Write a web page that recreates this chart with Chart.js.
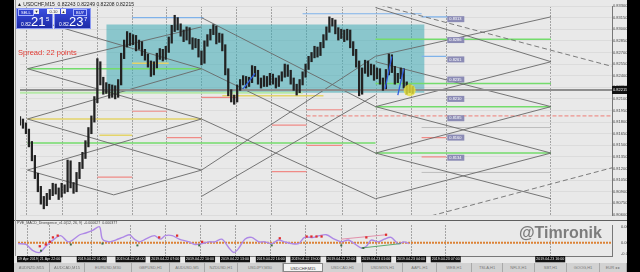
<!DOCTYPE html>
<html>
<head>
<meta charset="utf-8">
<title>USDCHF,M15</title>
<script src="https://cdn.jsdelivr.net/npm/chart.js@4.4.1/dist/chart.umd.min.js"></script>
<style>
  body { margin: 0; width: 640px; height: 272px; background: #000; position: relative; overflow: hidden; font-family: "Liberation Sans", Arial, sans-serif; }
  .pane { position: absolute; left: 14px; width: 613px; background: #e9e9e9; }
  #mainPane { top: 0; height: 221px; }
  #macdPane { top: 221px; height: 42px; }
  #paneSplit { position: absolute; left: 14px; top: 220px; width: 613px; height: 1px; background: #5e5e5e; }
  #leftEdge { position: absolute; left: 15px; top: 0; width: 1px; height: 256px; background: #9a9a9a; }
  #header { position: absolute; left: 17px; top: 1px; font-size: 5px; color: #222; white-space: nowrap; }
  #trade { position: absolute; left: 16px; top: 8px; width: 75px; height: 22px; }
  .big { position: absolute; top: 0; width: 37px; height: 21px; box-sizing: border-box; border: 1px solid #8a98f2; background: linear-gradient(#3a4ee0, #1d2aa6); color: #fff; }
  .big .small { position: absolute; left: 4px; top: 12px; font-size: 5px; }
  .big .num { position: absolute; left: 14px; top: 6px; font-size: 13px; line-height: 13px; }
  .big .sup { position: absolute; left: 29px; top: 7px; font-size: 6px; }
  .btn { position: absolute; top: 1px; height: 5px; padding: 0 2px; font-size: 4px; line-height: 5px; color: #fff; background: #2f40cc; border: 1px solid #a8b4ff; }
  .fld { position: absolute; top: 1px; height: 5px; font-size: 4px; line-height: 5px; color: #333; background: #f2f2f2; text-align: center; }
  #spread { position: absolute; left: 18px; top: 48px; font-size: 7.5px; color: #e23a32; white-space: nowrap; }
  #macdName { position: absolute; left: 17px; top: 221px; font-size: 3.6px; color: #444; white-space: nowrap; }
  #watermark { position: absolute; left: 519px; top: 224px; font-size: 16px; font-weight: bold; color: #7c7c7c; white-space: nowrap; }
  #tabs { position: absolute; left: 14px; top: 263px; width: 613px; height: 9px; background: #d2d2d2; display: flex; }
  #tabs span { box-sizing: border-box; height: 9px; border-right: 1px solid #a9a9a9; font-size: 4px; line-height: 9px; color: #777; text-align: center; white-space: nowrap; overflow: hidden; }
  #tabs span.on { background: #f4f4f4; color: #333; border: 1px solid #888; }
</style>
</head>
<body>
<div class="pane" id="mainPane"><canvas id="mainChart" width="613" height="221"></canvas></div>
<div class="pane" id="macdPane"><canvas id="macdChart" width="613" height="42"></canvas></div>
<div id="paneSplit"></div>
<div id="leftEdge"></div>

<div id="header">▲ USDCHF,M15&nbsp; 0.82243 0.82249 0.82208 0.82215</div>
<div id="trade">
  <div class="big" style="left:0"><span class="small">0.82</span><span class="num">21</span><span class="sup">5</span></div>
  <div class="big" style="left:38px"><span class="small">0.82</span><span class="num">23</span><span class="sup">7</span></div>
  <div class="btn" style="left:2px">SELL</div>
  <div class="fld" style="left:18px;width:5px">▼</div>
  <div class="fld" style="left:31px;width:13px">0.10</div>
  <div class="fld" style="left:45px;width:5px">▲</div>
  <div class="btn" style="left:57px">BUY</div>
</div>
<div id="spread">Spread: 22 points</div>
<div id="macdName">PVE_MACD_Divergence_v1.0(12, 26, 9)&nbsp; -0.000627&nbsp; 0.000377</div>
<div id="watermark">@Timronik</div>

<div id="tabs">
  <span style="width:36px">AUDNZD,M15</span>
  <span style="width:35px">AUDCAD,M15</span>
  <span style="width:47px">EURUSD,M30</span>
  <span style="width:38px">GBPUSD,H1</span>
  <span style="width:35px">AUDUSD,M5</span>
  <span style="width:33px">NZDUSD,H1</span>
  <span style="width:45px">USDJPY,M30</span>
  <span class="on" style="width:40px">USDCHF,M15</span>
  <span style="width:40px">USDCAD,H1</span>
  <span style="width:40px">USDMXN,H1</span>
  <span style="width:34px">AAPL,H1</span>
  <span style="width:35px">WEB,H1</span>
  <span style="width:31px">TSLA,H1</span>
  <span style="width:32px">NFLX,H1</span>
  <span style="width:32px">SBT,H1</span>
  <span style="width:33px">GOOG,H1</span>
  <span style="width:27px">EUR ◂ ▸</span>
</div>

<script>
// Price candles, one entry per M15 bar (low / high)
const barLow = [
  0.8176, 0.8172, 0.8165, 0.8148, 0.8130, 0.8107, 0.8090, 0.8074, 0.8068, 0.8072,
  0.8080, 0.8085, 0.8087, 0.8080, 0.8083, 0.8088, 0.8090, 0.8095, 0.8088, 0.8090,
  0.8107, 0.8120, 0.8133, 0.8148, 0.8165, 0.8180, 0.8205, 0.8228, 0.8216, 0.8217,
  0.8211, 0.8212, 0.8210, 0.8212, 0.8228, 0.8262, 0.8277, 0.8279, 0.8280, 0.8272,
  0.8274, 0.8266, 0.8260, 0.8251, 0.8239, 0.8241, 0.8250, 0.8261, 0.8259, 0.8261,
  0.8270, 0.8282, 0.8297, 0.8299, 0.8291, 0.8284, 0.8286, 0.8281, 0.8274, 0.8276,
  0.8264, 0.8254, 0.8256, 0.8278, 0.8286, 0.8293, 0.8281, 0.8283, 0.8272, 0.8241,
  0.8214, 0.8206, 0.8203, 0.8206, 0.8221, 0.8228, 0.8224, 0.8226, 0.8231, 0.8239,
  0.8229, 0.8224, 0.8226, 0.8226, 0.8228, 0.8229, 0.8224, 0.8226, 0.8233, 0.8238,
  0.8239, 0.8229, 0.8221, 0.8215, 0.8218, 0.8228, 0.8238, 0.8248, 0.8258, 0.8263,
  0.8264, 0.8266, 0.8276, 0.8286, 0.8296, 0.8304, 0.8294, 0.8286, 0.8288, 0.8284,
  0.8286, 0.8276, 0.8266, 0.8251, 0.8214, 0.8216, 0.8243, 0.8239, 0.8241, 0.8234,
  0.8236, 0.8229, 0.8221, 0.8223, 0.8241, 0.8244, 0.8229, 0.8231, 0.8236, 0.8224,
  0.8216, 0.8218, 0.8217
];
const barHigh = [
  0.8187, 0.8184, 0.8179, 0.8171, 0.8155, 0.8137, 0.8114, 0.8097, 0.8084, 0.8088,
  0.8093, 0.8101, 0.8100, 0.8095, 0.8101, 0.8099, 0.8131, 0.8130, 0.8102, 0.8115,
  0.8128, 0.8141, 0.8156, 0.8173, 0.8188, 0.8213, 0.8262, 0.8258, 0.8238, 0.8231,
  0.8229, 0.8228, 0.8227, 0.8235, 0.8269, 0.8286, 0.8297, 0.8295, 0.8293, 0.8292,
  0.8286, 0.8284, 0.8274, 0.8268, 0.8259, 0.8258, 0.8269, 0.8275, 0.8274, 0.8278,
  0.8290, 0.8305, 0.8318, 0.8315, 0.8307, 0.8299, 0.8303, 0.8302, 0.8289, 0.8288,
  0.8287, 0.8272, 0.8285, 0.8293, 0.8300, 0.8306, 0.8304, 0.8295, 0.8294, 0.8280,
  0.8249, 0.8222, 0.8215, 0.8228, 0.8235, 0.8240, 0.8239, 0.8238, 0.8253, 0.8252,
  0.8247, 0.8237, 0.8240, 0.8239, 0.8243, 0.8242, 0.8237, 0.8240, 0.8245, 0.8255,
  0.8254, 0.8247, 0.8237, 0.8229, 0.8235, 0.8245, 0.8255, 0.8265, 0.8270, 0.8278,
  0.8277, 0.8283, 0.8293, 0.8303, 0.8316, 0.8314, 0.8312, 0.8302, 0.8300, 0.8299,
  0.8300, 0.8299, 0.8284, 0.8274, 0.8259, 0.8250, 0.8260, 0.8259, 0.8255, 0.8254,
  0.8250, 0.8249, 0.8237, 0.8248, 0.8268, 0.8267, 0.8252, 0.8243, 0.8250, 0.8249,
  0.8232, 0.8228, 0.8226
];
const bidPrice = 0.82215;

// Axis ticks
const priceTicks = [0.8330, 0.8315, 0.8300, 0.8285, 0.8270, 0.8255, 0.8240, 0.8225, 0.8210, 0.8195,
  0.8180, 0.8165, 0.8150, 0.8135, 0.8120, 0.8105, 0.8090, 0.8075, 0.8060];
const separatorBars = [2.3, 14.3, 26, 37.7, 49.3, 61, 72.7, 84.7, 96.3, 108.3, 120, 131.7, 143.3, 178.3];
const timeTicks = [3.3, 10.7, 24.7, 37.7, 49.3, 61, 72.7, 84.7, 96.3, 108.3, 120, 131.7, 143.3, 178.3];
const timeLabels = ['19 Apr 2019', '21 Apr 22:00', '2019.04.22 01:00', '2019.04.22 04:00', '2019.04.22 07:00',
  '2019.04.22 10:00', '2019.04.22 13:00', '2019.04.22 16:00', '2019.04.22 19:00', '2019.04.22 22:00',
  '2019.04.23 01:00', '2019.04.23 04:00', '2019.04.23 07:00', '2019.04.23 16:00'];

// Drawn objects: zone box [fromBar, toBar, lowPrice, highPrice]
const zoneBox = [29, 136, 0.8218, 0.8306];
// Horizontal levels [fromBar, toBar, price]
const greenLevels = [[2.5, 61, 0.8249], [2.5, 119.5, 0.8153], [119.5, 178.5, 0.8287], [119.5, 178.5, 0.8230],
  [119.5, 178.5, 0.8200], [119.5, 178.5, 0.8140]];
const paleGreenLevels = [[0, 95, 0.8218]];
const yellowLevels = [[2.5, 61, 0.8184], [26.7, 37.7, 0.8163], [37.7, 50, 0.8256], [68, 102, 0.8214]];
const redLevels = [[37.7, 49.3, 0.8194], [49.3, 61, 0.8160], [26, 37.7, 0.8109], [61, 72.7, 0.8212],
  [96.3, 108.3, 0.8196], [84.7, 96.3, 0.8176], [96.3, 108.3, 0.8150], [84.7, 96.3, 0.8116],
  [135, 143.3, 0.8160], [135, 143.3, 0.8135]];
const blueLevels = [[135, 145, 0.8316], [135, 143.3, 0.8265], [37.7, 61.7, 0.8315], [95, 135, 0.8320]];
const greyLevels = [[135, 178.5, 0.8173], [135, 178.5, 0.8115]];
const redDashLevels = [[96.3, 199, 0.8188]];
// Sloped lines [fromBar, fromPrice, toBar, toPrice]
const gannLines = [
  [2.5, 0.8315, 61, 0.8249], [2.5, 0.8249, 61, 0.8303], [2.5, 0.8249, 61, 0.8184], [2.5, 0.8184, 61, 0.8249],
  [2.5, 0.8184, 61, 0.8118], [2.5, 0.8118, 61, 0.8184], [2.5, 0.8118, 31.5, 0.8086], [31.5, 0.8086, 61, 0.8118],
  [61, 0.8184, 119.5, 0.8081], [61, 0.8084, 119.5, 0.8215], [61, 0.8249, 119.5, 0.8140], [61, 0.8315, 119.5, 0.8200],
  [61, 0.8118, 119.5, 0.8265], [119.5, 0.8265, 178.5, 0.8316], [119.5, 0.8328, 178.5, 0.8258],
  [119.5, 0.8200, 178.5, 0.8258], [119.5, 0.8258, 178.5, 0.8200], [119.5, 0.8140, 178.5, 0.8200],
  [119.5, 0.8200, 178.5, 0.8140], [119.5, 0.8081, 178.5, 0.8140], [119.5, 0.8140, 178.5, 0.8081]
];
const dashedLines = [[118.3, 0.8334, 199, 0.8252], [138.3, 0.8059, 199, 0.8121]];
const blueTrends = [[75, 0.8223, 79, 0.8243], [122.7, 0.8223, 125, 0.8265], [127, 0.8215, 129, 0.8249]];
const hotSpot = [131, 0.8221];
// Price tags on the level grid
const tagBar = 143.3;
const levelTags = [0.8313, 0.8286, 0.8261, 0.8235, 0.8210, 0.8185, 0.8160, 0.8134];

// MACD divergence sub-window
const macdBars = [0, 2.7, 5, 7.3, 9.3, 11.7, 14.3, 16.7, 18.3, 20.7, 22.7, 25, 27.3, 28.3, 30.7, 32.7, 35, 37.3, 39, 40.7,
  42.7, 45.7, 47.7, 49.3, 51.7, 54, 57.3, 59.3, 61.7, 64, 66, 68.3, 70.7, 72.3, 74, 76, 78.3, 80.7, 82.7, 85,
  87.3, 89.3, 91.7, 94, 96, 99, 101, 103.3, 106, 108.3, 110.7, 112.7, 115, 116.7, 118.3, 120.7, 122.7, 125, 127.3, 129.3, 131];
const macdVals = [-0.0001, -0.0002, -0.0009, -0.0011, -0.0004, 0.0003, 0.0008, 0.0001, 0.0003, 0.0009,
  0.0011, 0.0014, 0.0018, 0.0004, 0.0001, 0.0003, 0.0006, 0.0009, 0.0004, 0.0001,
  0.0004, 0.0008, 0.0004, 0.0008, 0.0008, 0.0004, 0.0001, -0.0002, -0.0001, 0.0001,
  0.0001, 0.0004, -0.0006, -0.0011, -0.0006, 0.0004, 0.0006, 0.0001, 0.0001, -0.0001,
  0.0003, 0.0001, -0.0001, -0.0001, 0.0006, 0.0006, 0.0008, 0.0009, 0.0004, 0.0001,
  0.0003, -0.0001, -0.0006, -0.0004, 0.0003, 0.0001, 0.0004, 0.0006, -0.0001, 0.0001, -0.0001];
const redMarkBars = [7.3, 9.3, 10.7, 11.7, 13.3, 47.3, 53.3, 61.7, 87.7, 96.7, 98.3, 100, 101.7, 116.7, 123.3];
const redMarkVals = [-0.0004, -0.0002, 0.0001, 0.0006, 0.0008, 0.0006, 0.0008, 0.0001, 0.0005, 0.0007, 0.0007, 0.0007, 0.0007, 0.0006, 0.0009];
const greenMarkBars = [7.7, 17.7, 28.3, 40, 60.7, 85, 108.3, 115.7];
const greenMarkVals = [-0.0009, -0.0002, -0.0001, -0.0003, -0.0003, -0.0003, -0.0003, -0.0006];
const divLinesUp = [[108.3, 0.0004, 123.3, 0.0009]];
const divLinesDown = [[115, -0.0006, 128.3, -0.0001]];
const macdTicks = [0.0018, 0, -0.0013];

// Turn level / segment lists into broken line data
function levelPoints(levels) {
  const pts = [];
  levels.forEach(l => {
    pts.push({x: l[0], y: l[2]}, {x: l[1], y: l[2]}, {x: l[1], y: null});
  });
  return pts;
}
function segmentPoints(segs) {
  const pts = [];
  segs.forEach(s => {
    pts.push({x: s[0], y: s[1]}, {x: s[2], y: s[3]}, {x: s[2], y: null});
  });
  return pts;
}
function lineSet(data, color, width, order, extra) {
  return Object.assign({
    type: 'line', data: data, borderColor: color, borderWidth: width, pointRadius: 0,
    tension: 0, spanGaps: false, fill: false, order: order
  }, extra || {});
}

const candles = barLow.map((lo, i) => ({x: i, y: [lo, barHigh[i]]}));

// Tags and bid box drawn against the price scale
const priceTagsPlugin = {
  id: 'priceTags',
  afterDraw(chart) {
    const ctx = chart.ctx;
    const xs = chart.scales.x;
    const ys = chart.scales.y;
    ctx.save();
    ctx.font = '4px "Liberation Sans", Arial';
    ctx.textBaseline = 'middle';
    levelTags.forEach(p => {
      const px = xs.getPixelForValue(tagBar) + 1;
      const py = ys.getPixelForValue(p);
      ctx.fillStyle = '#8b8bb5';
      ctx.fillRect(px, py - 3, 17, 6);
      ctx.fillStyle = '#fff';
      ctx.fillText(p.toFixed(4), px + 2, py);
    });
    const by = ys.getPixelForValue(bidPrice);
    ctx.fillStyle = '#111';
    ctx.fillRect(ys.left, by - 4, ys.width, 8);
    ctx.fillStyle = '#fff';
    ctx.fillText(bidPrice.toFixed(5), ys.left + 1, by);
    ctx.restore();
  }
};

new Chart(document.getElementById('mainChart'), {
  type: 'line',
  data: {
    datasets: [
      lineSet([{x: zoneBox[0], y: zoneBox[3]}, {x: zoneBox[1], y: zoneBox[3]}], 'rgba(0,0,0,0)', 0, 20,
        {fill: {value: zoneBox[2]}, backgroundColor: 'rgba(60,170,180,0.55)'}),
      lineSet(levelPoints(paleGreenLevels), '#b6e8a8', 2, 15),
      lineSet(levelPoints(greenLevels), '#74dc6c', 1.5, 14),
      lineSet(levelPoints(yellowLevels), '#e4d46a', 1.5, 14),
      lineSet(levelPoints(redLevels), '#f08a86', 1.2, 14),
      lineSet(levelPoints(blueLevels), '#7fb2ea', 1.2, 14),
      lineSet(levelPoints(greyLevels), '#bdbdbd', 1, 14),
      lineSet(levelPoints(redDashLevels), '#ee7d76', 1, 13, {borderDash: [4, 2]}),
      lineSet(segmentPoints(gannLines), '#686868', 0.9, 12),
      lineSet(segmentPoints(dashedLines), '#6e6e6e', 0.9, 12, {borderDash: [5, 3]}),
      lineSet([{x: 0, y: bidPrice}, {x: 199, y: bidPrice}], '#8e8e8e', 2, 10),
      {
        type: 'bar', data: candles, backgroundColor: '#222', barThickness: 1.6,
        grouped: false, order: 3
      },
      lineSet(segmentPoints(blueTrends), '#2f5fe0', 1.3, 2),
      lineSet([{x: hotSpot[0], y: hotSpot[1]}], 'rgba(0,0,0,0)', 0, 1,
        {pointRadius: 6, pointBackgroundColor: 'rgba(232,226,60,0.8)', pointBorderWidth: 0})
    ]
  },
  options: {
    responsive: false, animation: false, devicePixelRatio: 1,
    layout: {padding: {left: 1, top: 3, bottom: 2, right: 0}},
    plugins: {legend: {display: false}, tooltip: {enabled: false}},
    scales: {
      x: {
        type: 'linear', min: 0, max: 199, offset: false,
        afterBuildTicks: s => { s.ticks = separatorBars.map(v => ({value: v})); },
        afterFit: s => { s.height = 0; },
        ticks: {display: false},
        grid: {color: '#a3a3a3', drawTicks: false, lineWidth: 1, offset: false},
        border: {display: false, dash: [2, 1]}
      },
      y: {
        position: 'right', min: 0.8060, max: 0.8330,
        afterBuildTicks: s => { s.ticks = priceTicks.map(v => ({value: v})); },
        afterFit: s => { s.width = 15; },
        ticks: {font: {size: 4}, color: '#444', padding: 1, callback: v => v.toFixed(5)},
        grid: {color: '#dcdcdc', drawTicks: false},
        border: {color: '#777'}
      }
    }
  },
  plugins: [priceTagsPlugin]
});

new Chart(document.getElementById('macdChart'), {
  type: 'line',
  data: {
    datasets: [
      lineSet([{x: 0, y: 0}, {x: 199, y: 0}], '#dc8236', 2, 10, {borderDash: [2, 1]}),
      lineSet(macdBars.map((b, i) => ({x: b, y: macdVals[i]})), '#ae88e6', 1.4, 5, {tension: 0.3}),
      lineSet(segmentPoints(divLinesUp), '#e07a9a', 0.8, 4),
      lineSet(segmentPoints(divLinesDown), '#3c9a52', 0.8, 4),
      lineSet(redMarkBars.map((b, i) => ({x: b, y: redMarkVals[i]})), 'rgba(0,0,0,0)', 0, 2,
        {showLine: false, pointRadius: 1.6, pointStyle: 'rect', pointBackgroundColor: '#e02c2c', pointBorderWidth: 0}),
      lineSet(greenMarkBars.map((b, i) => ({x: b, y: greenMarkVals[i]})), 'rgba(0,0,0,0)', 0, 2,
        {showLine: false, pointRadius: 1.4, pointStyle: 'rect', pointBackgroundColor: '#3d6b48', pointBorderWidth: 0})
    ]
  },
  options: {
    responsive: false, animation: false, devicePixelRatio: 1,
    layout: {padding: {left: 1, top: 0, bottom: 0, right: 0}},
    plugins: {legend: {display: false}, tooltip: {enabled: false}},
    scales: {
      x: {
        type: 'linear', min: 0, max: 199, offset: false,
        afterBuildTicks: s => { s.ticks = timeTicks.map(v => ({value: v})); },
        afterFit: s => { s.height = 7; },
        ticks: {
          autoSkip: false, maxRotation: 0, font: {size: 3.6}, color: '#eee', padding: 1,
          showLabelBackdrop: true, backdropColor: '#111', backdropPadding: 1,
          callback: (v, i) => timeLabels[i]
        },
        grid: {color: '#a3a3a3', drawTicks: false},
        border: {color: '#777', dash: [2, 1]}
      },
      y: {
        position: 'right', min: -0.0015, max: 0.0020,
        afterBuildTicks: s => { s.ticks = macdTicks.map(v => ({value: v})); },
        afterFit: s => { s.width = 15; },
        ticks: {font: {size: 4}, color: '#444', padding: 1, callback: v => (v === 0 ? '0.00' : v.toFixed(5))},
        grid: {display: false},
        border: {color: '#777'}
      }
    }
  }
});
</script>
</body>
</html>
